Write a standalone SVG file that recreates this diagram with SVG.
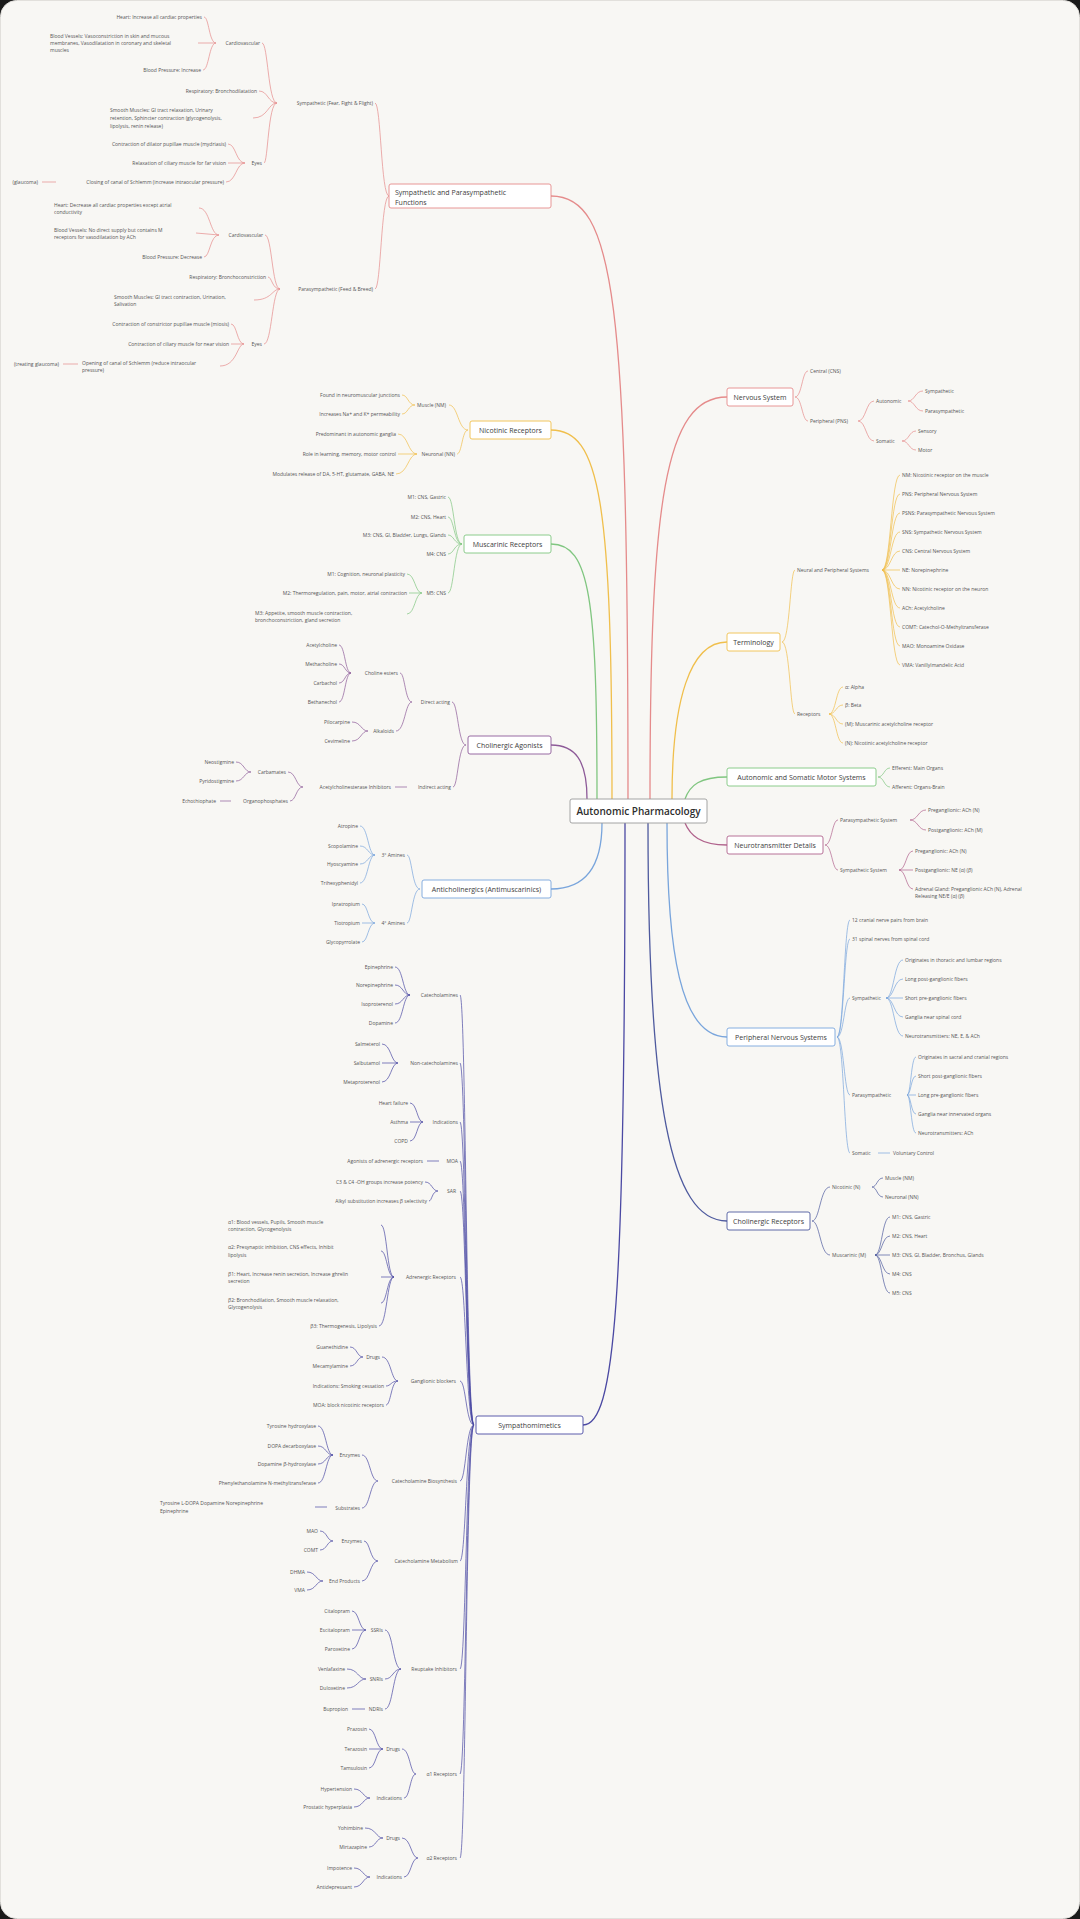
<svg xmlns="http://www.w3.org/2000/svg" width="1080" height="1919" viewBox="0 0 1080 1919">
<style>
text{font-family:'Open Sans','Liberation Sans',sans-serif;dominant-baseline:central}
.s{font-size:5px;fill:#555}
.e{text-anchor:end}
.m{text-anchor:middle}
.b{font-size:7px;fill:#3d3d3d}
.c{font-size:10px;fill:#2e2e2e;font-weight:600}
rect.n{fill:#fff;stroke-width:0.9}
path{fill:none;stroke-width:0.7}
.k{stroke-width:1.3}
.red{stroke:#e58b8b}.yel{stroke:#f0bf4c}.grn{stroke:#80c680}.pur{stroke:#8d5a98}
.mar{stroke:#b0628c}.blu{stroke:#79a5dc}.nav{stroke:#4e5a9e}.ind{stroke:#4b49a3}
</style>
<rect x="0" y="0" width="1080" height="1919" fill="#1a1a1a"/>
<rect x="0.5" y="0.5" width="1079" height="1918" rx="16" fill="#f8f7f4" stroke="#e2e0dc"/>

<g id="connectors">
<!-- main branches -->
<path class="red k" d="M551 196 C615 196 628 300 628 799"/>
<path class="yel k" d="M551 430 C600 430 612 500 612 799"/>
<path class="grn k" d="M551 544 C590 544 597 600 597 799"/>
<path class="pur k" d="M551 745 C575 745 587 760 587 799"/>
<path class="blu k" d="M551 889 C590 889 602 860 602 823"/>
<path class="ind k" d="M583 1425 C615 1425 625 1300 625 823"/>
<path class="red k" d="M727 397 C665 397 650 500 650 799"/>
<path class="yel k" d="M727 642 C690 642 672 700 672 799"/>
<path class="grn k" d="M727 777 C700 777 690 785 685 799"/>
<path class="mar k" d="M727 845 C700 845 690 835 685 823"/>
<path class="blu k" d="M727 1037 C680 1037 667 950 667 823"/>
<path class="nav k" d="M727 1221 C670 1221 648 1100 648 823"/>

<!-- sympathetic/parasympathetic functions -->
<path class="red" d="M389 196 C381 196 381 103 375 103 M389 196 C381 196 381 289 375 289"/>
<path class="red" d="M277 103 C268 103 268 43 262 43 M277 103 C268 103 268 91 259 91 M277 103 C268 103 268 118 253 118 M277 103 C268 103 268 163 264 163"/>
<path class="red" d="M216 43 C209 43 209 17 204 17 M216 43 L198 43 M216 43 C209 43 209 70 203 70"/>
<path class="red" d="M245 163 C236 163 236 144 228 144 M245 163 L228 163 M245 163 C236 163 236 182 226 182 M42 182 L56 182"/>
<path class="red" d="M280 289 C272 289 272 235 265 235 M280 289 C272 289 272 277 268 277 M280 289 C272 289 272 300 254 300 M280 289 C272 289 272 344 264 344"/>
<path class="red" d="M219 235 C210 235 210 208 199 208 M219 235 L196 233 M219 235 C210 235 210 257 204 257"/>
<path class="red" d="M244 344 C237 344 237 324 231 324 M244 344 L231 344 M244 344 C237 344 237 366 220 366 M63 364 L78 364"/>

<!-- nicotinic -->
<path class="yel" d="M468 430 C458 430 458 405 449 405 M468 430 C462 430 462 454 457 454"/>
<path class="yel" d="M415 405 C408 405 408 395 402 395 M415 405 C408 405 408 414 402 414"/>
<path class="yel" d="M417 454 C408 454 408 434 398 434 M417 454 L398 454 M417 454 C408 454 408 474 396 474"/>

<!-- muscarinic -->
<path class="grn" d="M462 544 C454 544 454 497 448 497 M462 544 C454 544 454 517 448 517 M462 544 C454 544 454 535 448 535 M462 544 C454 544 454 554 448 554 M462 544 C454 544 454 593 448 593"/>
<path class="grn" d="M422 593 C415 593 415 574 407 574 M422 593 L409 593 M422 593 C415 593 415 614 407 614"/>

<!-- cholinergic agonists -->
<path class="pur" d="M466 745 C458 745 458 702 452 702 M466 745 C458 745 458 787 453 787"/>
<path class="pur" d="M412 702 C405 702 405 673 400 673 M412 702 C405 702 405 731 396 731"/>
<path class="pur" d="M351 673 C345 673 345 645 339 645 M351 673 C345 673 345 664 339 664 M351 673 C345 673 345 683 339 683 M351 673 C345 673 345 702 339 702"/>
<path class="pur" d="M368 731 C361 731 361 722 352 722 M368 731 C361 731 361 741 352 741"/>
<path class="pur" d="M395 787 L407 787 M303 787 C296 787 296 772 288 772 M303 787 C296 787 296 801 290 801"/>
<path class="pur" d="M251 772 C244 772 244 762 236 762 M251 772 C244 772 244 781 236 781 M220 801 L231 801"/>

<!-- anticholinergics -->
<path class="blu" d="M420 889 C412 889 412 855 407 855 M420 889 C412 889 412 923 407 923"/>
<path class="blu" d="M375 855 C368 855 368 826 360 826 M375 855 C368 855 368 846 360 846 M375 855 C368 855 368 864 360 864 M375 855 C368 855 368 883 360 883"/>
<path class="blu" d="M375 923 C368 923 368 904 362 904 M375 923 L362 923 M375 923 C368 923 368 942 362 942"/>

<!-- sympathomimetics -->
<path class="ind" d="M474 1425 C466 1425 466 995 460 995 M474 1425 C466 1425 466 1063 460 1063 M474 1425 C466 1425 466 1122 460 1122 M474 1425 C466 1425 466 1161 460 1161 M474 1425 C466 1425 466 1191 460 1191 M474 1425 C466 1425 466 1277 460 1277 M474 1425 C466 1425 466 1381 460 1381 M474 1425 C466 1425 466 1481 460 1481 M474 1425 C466 1425 466 1561 460 1561 M474 1425 C466 1425 466 1669 460 1669 M474 1425 C466 1425 466 1774 460 1774 M474 1425 C466 1425 466 1858 460 1858"/>
<path class="ind" d="M410 995 C403 995 403 967 395 967 M410 995 C403 995 403 985 395 985 M410 995 C403 995 403 1004 395 1004 M410 995 C403 995 403 1023 395 1023"/>
<path class="ind" d="M398 1063 C391 1063 391 1044 382 1044 M398 1063 L382 1063 M398 1063 C391 1063 391 1082 382 1082"/>
<path class="ind" d="M423 1122 C417 1122 417 1103 410 1103 M423 1122 L410 1122 M423 1122 C417 1122 417 1141 410 1141 M427 1161 L439 1161"/>
<path class="ind" d="M438 1191 C432 1191 432 1182 425 1182 M438 1191 C432 1191 432 1201 429 1201"/>
<path class="ind" d="M394 1277 C387 1277 387 1225 381 1225 M394 1277 C387 1277 387 1251 381 1251 M394 1277 L381 1277 M394 1277 C387 1277 387 1303 381 1303 M394 1277 C387 1277 387 1326 379 1326"/>
<path class="ind" d="M398 1381 C391 1381 391 1357 382 1357 M398 1381 C391 1381 391 1386 386 1386 M398 1381 C391 1381 391 1405 386 1405"/>
<path class="ind" d="M363 1357 C357 1357 357 1347 350 1347 M363 1357 C357 1357 357 1366 350 1366"/>
<path class="ind" d="M378 1481 C370 1481 370 1455 362 1455 M378 1481 C370 1481 370 1508 362 1508"/>
<path class="ind" d="M333 1455 C326 1455 326 1426 318 1426 M333 1455 C326 1455 326 1446 318 1446 M333 1455 C326 1455 326 1464 318 1464 M333 1455 C326 1455 326 1483 318 1483 M315 1507 L327 1507"/>
<path class="ind" d="M378 1561 C370 1561 370 1541 364 1541 M378 1561 C370 1561 370 1581 362 1581"/>
<path class="ind" d="M333 1541 C327 1541 327 1531 320 1531 M333 1541 C327 1541 327 1550 320 1550"/>
<path class="ind" d="M323 1581 C316 1581 316 1572 307 1572 M323 1581 C316 1581 316 1590 307 1590"/>
<path class="ind" d="M401 1669 C393 1669 393 1630 385 1630 M401 1669 C393 1669 393 1679 385 1679 M401 1669 C393 1669 393 1709 385 1709"/>
<path class="ind" d="M366 1630 C359 1630 359 1611 352 1611 M366 1630 L352 1630 M366 1630 C359 1630 359 1649 352 1649"/>
<path class="ind" d="M366 1679 C358 1679 358 1669 347 1669 M366 1679 C358 1679 358 1688 347 1688 M352 1709 L365 1709"/>
<path class="ind" d="M416 1774 C410 1774 410 1749 402 1749 M416 1774 C410 1774 410 1798 404 1798"/>
<path class="ind" d="M383 1749 C376 1749 376 1729 369 1729 M383 1749 L369 1749 M383 1749 C376 1749 376 1768 369 1768"/>
<path class="ind" d="M370 1798 C363 1798 363 1789 354 1789 M370 1798 C363 1798 363 1807 354 1807"/>
<path class="ind" d="M418 1858 C411 1858 411 1838 402 1838 M418 1858 C411 1858 411 1877 404 1877"/>
<path class="ind" d="M383 1838 C376 1838 376 1828 365 1828 M383 1838 C376 1838 376 1847 369 1847"/>
<path class="ind" d="M370 1877 C363 1877 363 1868 354 1868 M370 1877 C363 1877 363 1887 354 1887"/>

<!-- nervous system -->
<path class="red" d="M795 397 C802 397 802 371 808 371 M795 397 C802 397 802 421 808 421"/>
<path class="red" d="M858 421 C866 421 866 401 874 401 M858 421 C866 421 866 441 874 441"/>
<path class="red" d="M908 401 C915 401 915 391 923 391 M908 401 C915 401 915 411 923 411"/>
<path class="red" d="M902 441 C909 441 909 431 916 431 M902 441 C909 441 909 450 916 450"/>

<!-- terminology -->
<path class="yel" d="M782 642 C790 642 790 570 795 570 M782 642 C790 642 790 714 795 714"/>
<path class="yel" d="M882 570 C891 570 891 475 900 475 M882 570 C891 570 891 494 900 494 M882 570 C891 570 891 513 900 513 M882 570 C891 570 891 532 900 532 M882 570 C891 570 891 551 900 551 M882 570 L900 570 M882 570 C891 570 891 589 900 589 M882 570 C891 570 891 608 900 608 M882 570 C891 570 891 627 900 627 M882 570 C891 570 891 646 900 646 M882 570 C891 570 891 665 900 665"/>
<path class="yel" d="M829 714 C836 714 836 687 843 687 M829 714 C836 714 836 705 843 705 M829 714 C836 714 836 724 843 724 M829 714 C836 714 836 743 843 743"/>

<!-- autonomic & somatic -->
<path class="grn" d="M878 777 C884 777 884 768 890 768 M878 777 C884 777 884 787 890 787"/>

<!-- neurotransmitter details -->
<path class="mar" d="M825 845 C832 845 832 820 838 820 M825 845 C832 845 832 870 838 870"/>
<path class="mar" d="M910 820 C918 820 918 810 926 810 M910 820 C918 820 918 830 926 830"/>
<path class="mar" d="M899 870 C906 870 906 851 913 851 M899 870 L913 870 M899 870 C906 870 906 889 913 889"/>

<!-- peripheral nervous systems -->
<path class="blu" d="M837 1037 C844 1037 844 920 850 920 M837 1037 C844 1037 844 939 850 939 M837 1037 C844 1037 844 998 850 998 M837 1037 C844 1037 844 1095 850 1095 M837 1037 C844 1037 844 1153 850 1153"/>
<path class="blu" d="M886 998 C894 998 894 960 903 960 M886 998 C894 998 894 979 903 979 M886 998 L903 998 M886 998 C894 998 894 1017 903 1017 M886 998 C894 998 894 1036 903 1036"/>
<path class="blu" d="M907 1095 C911 1095 911 1057 916 1057 M907 1095 C911 1095 911 1076 916 1076 M907 1095 L916 1095 M907 1095 C911 1095 911 1114 916 1114 M907 1095 C911 1095 911 1133 916 1133 M878 1153 L890 1153"/>

<!-- cholinergic receptors -->
<path class="nav" d="M812 1221 C820 1221 820 1187 830 1187 M812 1221 C820 1221 820 1255 830 1255"/>
<path class="nav" d="M872 1187 C877 1187 877 1178 883 1178 M872 1187 C877 1187 877 1197 883 1197"/>
<path class="nav" d="M875 1255 C882 1255 882 1217 890 1217 M875 1255 C882 1255 882 1236 890 1236 M875 1255 L890 1255 M875 1255 C882 1255 882 1274 890 1274 M875 1255 C882 1255 882 1293 890 1293"/>
</g>

<g id="center"><rect class="n" x="570" y="799" width="137" height="24" rx="2" stroke="#9a9a9a"/><text class="c m" x="638.5" y="811">Autonomic Pharmacology</text></g>

<g id="spf"><rect class="n" x="389" y="184" width="162" height="24" rx="2" stroke="#e58b8b"/><text class="b" x="395" y="192">Sympathetic and Parasympathetic</text><text class="b" x="395" y="202">Functions</text></g>
<g id="sym"><text class="s e" x="373" y="103">Sympathetic (Fear, Fight &amp; Flight)</text></g>
<g id="sym-cv"><text class="s e" x="260" y="43">Cardiovascular</text></g>
<g id="sym-cv1"><text class="s e" x="202" y="17">Heart: Increase all cardiac properties</text></g>
<g id="sym-cv2"><text class="s" x="50" y="36">Blood Vessels: Vasoconstriction in skin and mucous</text><text class="s" x="50" y="43">membranes, Vasodilatation in coronary and skeletal</text><text class="s" x="50" y="50">muscles</text></g>
<g id="sym-cv3"><text class="s e" x="201" y="70">Blood Pressure: Increase</text></g>
<g id="sym-resp"><text class="s e" x="257" y="91">Respiratory: Bronchodilatation</text></g>
<g id="sym-sm"><text class="s" x="110" y="110">Smooth Muscles: GI tract relaxation, Urinary</text><text class="s" x="110" y="118">retention, Sphincter contraction (glycogenolysis,</text><text class="s" x="110" y="126">lipolysis, renin release)</text></g>
<g id="sym-eye"><text class="s e" x="262" y="163">Eyes</text></g>
<g id="sym-eye1"><text class="s e" x="226" y="144">Contraction of dilator pupillae muscle (mydriasis)</text></g>
<g id="sym-eye2"><text class="s e" x="226" y="163">Relaxation of ciliary muscle for far vision</text></g>
<g id="sym-eye3"><text class="s e" x="224" y="182">Closing of canal of Schlemm (increase intraocular pressure)</text></g>
<g id="sym-eye3a"><text class="s e" x="38" y="182">(glaucoma)</text></g>
<g id="par"><text class="s e" x="373" y="289">Parasympathetic (Feed &amp; Breed)</text></g>
<g id="par-cv"><text class="s e" x="263" y="235">Cardiovascular</text></g>
<g id="par-cv1"><text class="s" x="54" y="205">Heart: Decrease all cardiac properties except atrial</text><text class="s" x="54" y="212">conductivity</text></g>
<g id="par-cv2"><text class="s" x="54" y="230">Blood Vessels: No direct supply but contains M</text><text class="s" x="54" y="237">receptors for vasodilatation by ACh</text></g>
<g id="par-cv3"><text class="s e" x="202" y="257">Blood Pressure: Decrease</text></g>
<g id="par-resp"><text class="s e" x="266" y="277">Respiratory: Bronchoconstriction</text></g>
<g id="par-sm"><text class="s" x="114" y="297">Smooth Muscles: GI tract contraction, Urination,</text><text class="s" x="114" y="304">Salivation</text></g>
<g id="par-eye"><text class="s e" x="262" y="344">Eyes</text></g>
<g id="par-eye1"><text class="s e" x="229" y="324">Contraction of constrictor pupillae muscle (miosis)</text></g>
<g id="par-eye2"><text class="s e" x="229" y="344">Contraction of ciliary muscle for near vision</text></g>
<g id="par-eye3"><text class="s" x="82" y="363">Opening of canal of Schlemm (reduce intraocular</text><text class="s" x="82" y="370">pressure)</text></g>
<g id="par-eye3a"><text class="s e" x="59" y="364">(treating glaucoma)</text></g>

<g id="nic"><rect class="n" x="470" y="421" width="81" height="18" rx="2" stroke="#f0bf4c"/><text class="b m" x="510.5" y="430">Nicotinic Receptors</text></g>
<g id="nic-m"><text class="s e" x="446" y="405">Muscle (NM)</text></g>
<g id="nic-m1"><text class="s e" x="400" y="395">Found in neuromuscular junctions</text></g>
<g id="nic-m2"><text class="s e" x="400" y="414">Increases Na+ and K+ permeability</text></g>
<g id="nic-n"><text class="s e" x="455" y="454">Neuronal (NN)</text></g>
<g id="nic-n1"><text class="s e" x="396" y="434">Predominant in autonomic ganglia</text></g>
<g id="nic-n2"><text class="s e" x="396" y="454">Role in learning, memory, motor control</text></g>
<g id="nic-n3"><text class="s e" x="394" y="474">Modulates release of DA, 5-HT, glutamate, GABA, NE</text></g>

<g id="mus"><rect class="n" x="464" y="535" width="87" height="18" rx="2" stroke="#80c680"/><text class="b m" x="507.5" y="544">Muscarinic Receptors</text></g>
<g id="mus1"><text class="s e" x="446" y="497">M1: CNS, Gastric</text></g>
<g id="mus2"><text class="s e" x="446" y="517">M2: CNS, Heart</text></g>
<g id="mus3"><text class="s e" x="446" y="535">M3: CNS, GI, Bladder, Lungs, Glands</text></g>
<g id="mus4"><text class="s e" x="446" y="554">M4: CNS</text></g>
<g id="mus5"><text class="s e" x="446" y="593">M5: CNS</text></g>
<g id="mus5a"><text class="s e" x="405" y="574">M1: Cognition, neuronal plasticity</text></g>
<g id="mus5b"><text class="s e" x="407" y="593">M2: Thermoregulation, pain, motor, atrial contraction</text></g>
<g id="mus5c"><text class="s" x="255" y="613">M3: Appetite, smooth muscle contraction,</text><text class="s" x="255" y="620">bronchoconstriction, gland secretion</text></g>

<g id="cha"><rect class="n" x="468" y="736" width="83" height="18" rx="2" stroke="#8d5a98"/><text class="b m" x="509.5" y="745">Cholinergic Agonists</text></g>
<g id="cha-d"><text class="s e" x="450" y="702">Direct acting</text></g>
<g id="cha-ce"><text class="s e" x="398" y="673">Choline esters</text></g>
<g id="cha-ce1"><text class="s e" x="337" y="645">Acetylcholine</text></g>
<g id="cha-ce2"><text class="s e" x="337" y="664">Methacholine</text></g>
<g id="cha-ce3"><text class="s e" x="337" y="683">Carbachol</text></g>
<g id="cha-ce4"><text class="s e" x="337" y="702">Bethanechol</text></g>
<g id="cha-al"><text class="s e" x="394" y="731">Alkaloids</text></g>
<g id="cha-al1"><text class="s e" x="350" y="722">Pilocarpine</text></g>
<g id="cha-al2"><text class="s e" x="350" y="741">Cevimeline</text></g>
<g id="cha-i"><text class="s e" x="451" y="787">Indirect acting</text></g>
<g id="cha-ache"><text class="s e" x="391" y="787">Acetylcholinesterase Inhibitors</text></g>
<g id="cha-ca"><text class="s e" x="286" y="772">Carbamates</text></g>
<g id="cha-ca1"><text class="s e" x="234" y="762">Neostigmine</text></g>
<g id="cha-ca2"><text class="s e" x="234" y="781">Pyridostigmine</text></g>
<g id="cha-op"><text class="s e" x="288" y="801">Organophosphates</text></g>
<g id="cha-op1"><text class="s e" x="216" y="801">Echothiophate</text></g>

<g id="ant"><rect class="n" x="422" y="880" width="129" height="18" rx="2" stroke="#79a5dc"/><text class="b m" x="486.5" y="889">Anticholinergics (Antimuscarinics)</text></g>
<g id="ant3"><text class="s e" x="405" y="855">3° Amines</text></g>
<g id="ant3a"><text class="s e" x="358" y="826">Atropine</text></g>
<g id="ant3b"><text class="s e" x="358" y="846">Scopolamine</text></g>
<g id="ant3c"><text class="s e" x="358" y="864">Hyoscyamine</text></g>
<g id="ant3d"><text class="s e" x="358" y="883">Trihexyphenidyl</text></g>
<g id="ant4"><text class="s e" x="405" y="923">4° Amines</text></g>
<g id="ant4a"><text class="s e" x="360" y="904">Ipratropium</text></g>
<g id="ant4b"><text class="s e" x="360" y="923">Tiotropium</text></g>
<g id="ant4c"><text class="s e" x="360" y="942">Glycopyrrolate</text></g>

<g id="smm"><rect class="n" x="476" y="1416" width="107" height="18" rx="2" stroke="#4b49a3"/><text class="b m" x="529.5" y="1425">Sympathomimetics</text></g>
<g id="smm-cat"><text class="s e" x="458" y="995">Catecholamines</text></g>
<g id="smm-cat1"><text class="s e" x="393" y="967">Epinephrine</text></g>
<g id="smm-cat2"><text class="s e" x="393" y="985">Norepinephrine</text></g>
<g id="smm-cat3"><text class="s e" x="393" y="1004">Isoproterenol</text></g>
<g id="smm-cat4"><text class="s e" x="393" y="1023">Dopamine</text></g>
<g id="smm-non"><text class="s e" x="458" y="1063">Non-catecholamines</text></g>
<g id="smm-non1"><text class="s e" x="380" y="1044">Salmeterol</text></g>
<g id="smm-non2"><text class="s e" x="380" y="1063">Salbutamol</text></g>
<g id="smm-non3"><text class="s e" x="380" y="1082">Metaproterenol</text></g>
<g id="smm-ind"><text class="s e" x="458" y="1122">Indications</text></g>
<g id="smm-ind1"><text class="s e" x="408" y="1103">Heart failure</text></g>
<g id="smm-ind2"><text class="s e" x="408" y="1122">Asthma</text></g>
<g id="smm-ind3"><text class="s e" x="408" y="1141">COPD</text></g>
<g id="smm-moa"><text class="s e" x="458" y="1161">MOA</text></g>
<g id="smm-moa1"><text class="s e" x="423" y="1161">Agonists of adrenergic receptors</text></g>
<g id="smm-sar"><text class="s e" x="456" y="1191">SAR</text></g>
<g id="smm-sar1"><text class="s e" x="423" y="1182">C3 &amp; C4 -OH groups increase potency</text></g>
<g id="smm-sar2"><text class="s e" x="427" y="1201">Alkyl substitution increases β selectivity</text></g>
<g id="smm-ar"><text class="s e" x="456" y="1277">Adrenergic Receptors</text></g>
<g id="smm-ar1"><text class="s" x="228" y="1222">α1: Blood vessels, Pupils, Smooth muscle</text><text class="s" x="228" y="1229">contraction, Glycogenolysis</text></g>
<g id="smm-ar2"><text class="s" x="228" y="1247">α2: Presynaptic inhibition, CNS effects, Inhibit</text><text class="s" x="228" y="1255">lipolysis</text></g>
<g id="smm-ar3"><text class="s" x="228" y="1274">β1: Heart, Increase renin secretion, Increase ghrelin</text><text class="s" x="228" y="1281">secretion</text></g>
<g id="smm-ar4"><text class="s" x="228" y="1300">β2: Bronchodilation, Smooth muscle relaxation,</text><text class="s" x="228" y="1307">Glycogenolysis</text></g>
<g id="smm-ar5"><text class="s e" x="377" y="1326">β3: Thermogenesis, Lipolysis</text></g>
<g id="smm-gb"><text class="s e" x="456" y="1381">Ganglionic blockers</text></g>
<g id="smm-gbd"><text class="s e" x="380" y="1357">Drugs</text></g>
<g id="smm-gbd1"><text class="s e" x="348" y="1347">Guanethidine</text></g>
<g id="smm-gbd2"><text class="s e" x="348" y="1366">Mecamylamine</text></g>
<g id="smm-gb2"><text class="s e" x="384" y="1386">Indications: Smoking cessation</text></g>
<g id="smm-gb3"><text class="s e" x="384" y="1405">MOA: block nicotinic receptors</text></g>
<g id="smm-bio"><text class="s e" x="457" y="1481">Catecholamine Biosynthesis</text></g>
<g id="smm-bioe"><text class="s e" x="360" y="1455">Enzymes</text></g>
<g id="smm-bioe1"><text class="s e" x="316" y="1426">Tyrosine hydroxylase</text></g>
<g id="smm-bioe2"><text class="s e" x="316" y="1446">DOPA decarboxylase</text></g>
<g id="smm-bioe3"><text class="s e" x="316" y="1464">Dopamine β-hydroxylase</text></g>
<g id="smm-bioe4"><text class="s e" x="316" y="1483">Phenylethanolamine N-methyltransferase</text></g>
<g id="smm-bios"><text class="s e" x="360" y="1508">Substrates</text></g>
<g id="smm-bios1"><text class="s" x="160" y="1503">Tyrosine L-DOPA Dopamine Norepinephrine</text><text class="s" x="160" y="1511">Epinephrine</text></g>
<g id="smm-met"><text class="s e" x="458" y="1561">Catecholamine Metabolism</text></g>
<g id="smm-mete"><text class="s e" x="362" y="1541">Enzymes</text></g>
<g id="smm-mete1"><text class="s e" x="318" y="1531">MAO</text></g>
<g id="smm-mete2"><text class="s e" x="318" y="1550">COMT</text></g>
<g id="smm-metp"><text class="s e" x="360" y="1581">End Products</text></g>
<g id="smm-metp1"><text class="s e" x="305" y="1572">DHMA</text></g>
<g id="smm-metp2"><text class="s e" x="305" y="1590">VMA</text></g>
<g id="smm-ri"><text class="s e" x="457" y="1669">Reuptake Inhibitors</text></g>
<g id="smm-ssri"><text class="s e" x="383" y="1630">SSRIs</text></g>
<g id="smm-ssri1"><text class="s e" x="350" y="1611">Citalopram</text></g>
<g id="smm-ssri2"><text class="s e" x="350" y="1630">Escitalopram</text></g>
<g id="smm-ssri3"><text class="s e" x="350" y="1649">Paroxetine</text></g>
<g id="smm-snri"><text class="s e" x="383" y="1679">SNRIs</text></g>
<g id="smm-snri1"><text class="s e" x="345" y="1669">Venlafaxine</text></g>
<g id="smm-snri2"><text class="s e" x="345" y="1688">Duloxetine</text></g>
<g id="smm-ndri"><text class="s e" x="383" y="1709">NDRIs</text></g>
<g id="smm-ndri1"><text class="s e" x="348" y="1709">Bupropion</text></g>
<g id="smm-a1"><text class="s e" x="457" y="1774">α1 Receptors</text></g>
<g id="smm-a1d"><text class="s e" x="400" y="1749">Drugs</text></g>
<g id="smm-a1d1"><text class="s e" x="367" y="1729">Prazosin</text></g>
<g id="smm-a1d2"><text class="s e" x="367" y="1749">Terazosin</text></g>
<g id="smm-a1d3"><text class="s e" x="367" y="1768">Tamsulosin</text></g>
<g id="smm-a1i"><text class="s e" x="402" y="1798">Indications</text></g>
<g id="smm-a1i1"><text class="s e" x="352" y="1789">Hypertension</text></g>
<g id="smm-a1i2"><text class="s e" x="352" y="1807">Prostatic hyperplasia</text></g>
<g id="smm-a2"><text class="s e" x="457" y="1858">α2 Receptors</text></g>
<g id="smm-a2d"><text class="s e" x="400" y="1838">Drugs</text></g>
<g id="smm-a2d1"><text class="s e" x="363" y="1828">Yohimbine</text></g>
<g id="smm-a2d2"><text class="s e" x="367" y="1847">Mirtazapine</text></g>
<g id="smm-a2i"><text class="s e" x="402" y="1877">Indications</text></g>
<g id="smm-a2i1"><text class="s e" x="352" y="1868">Impotence</text></g>
<g id="smm-a2i2"><text class="s e" x="352" y="1887">Antidepressant</text></g>

<g id="ns"><rect class="n" x="727" y="388" width="66" height="18" rx="2" stroke="#e58b8b"/><text class="b m" x="760" y="397">Nervous System</text></g>
<g id="ns-c"><text class="s" x="810" y="371">Central (CNS)</text></g>
<g id="ns-p"><text class="s" x="810" y="421">Peripheral (PNS)</text></g>
<g id="ns-pa"><text class="s" x="876" y="401">Autonomic</text></g>
<g id="ns-pa1"><text class="s" x="925" y="391">Sympathetic</text></g>
<g id="ns-pa2"><text class="s" x="925" y="411">Parasympathetic</text></g>
<g id="ns-ps"><text class="s" x="876" y="441">Somatic</text></g>
<g id="ns-ps1"><text class="s" x="918" y="431">Sensory</text></g>
<g id="ns-ps2"><text class="s" x="918" y="450">Motor</text></g>

<g id="term"><rect class="n" x="727" y="633" width="53" height="18" rx="2" stroke="#f0bf4c"/><text class="b m" x="753.5" y="642">Terminology</text></g>
<g id="term-n"><text class="s" x="797" y="570">Neural and Peripheral Systems</text></g>
<g id="term-n1"><text class="s" x="902" y="475">NM: Nicotinic receptor on the muscle</text></g>
<g id="term-n2"><text class="s" x="902" y="494">PNS: Peripheral Nervous System</text></g>
<g id="term-n3"><text class="s" x="902" y="513">PSNS: Parasympathetic Nervous System</text></g>
<g id="term-n4"><text class="s" x="902" y="532">SNS: Sympathetic Nervous System</text></g>
<g id="term-n5"><text class="s" x="902" y="551">CNS: Central Nervous System</text></g>
<g id="term-n6"><text class="s" x="902" y="570">NE: Norepinephrine</text></g>
<g id="term-n7"><text class="s" x="902" y="589">NN: Nicotinic receptor on the neuron</text></g>
<g id="term-n8"><text class="s" x="902" y="608">ACh: Acetylcholine</text></g>
<g id="term-n9"><text class="s" x="902" y="627">COMT: Catechol-O-Methyltransferase</text></g>
<g id="term-n10"><text class="s" x="902" y="646">MAO: Monoamine Oxidase</text></g>
<g id="term-n11"><text class="s" x="902" y="665">VMA: Vanillylmandelic Acid</text></g>
<g id="term-r"><text class="s" x="797" y="714">Receptors</text></g>
<g id="term-r1"><text class="s" x="845" y="687">α: Alpha</text></g>
<g id="term-r2"><text class="s" x="845" y="705">β: Beta</text></g>
<g id="term-r3"><text class="s" x="845" y="724">(M): Muscarinic acetylcholine receptor</text></g>
<g id="term-r4"><text class="s" x="845" y="743">(N): Nicotinic acetylcholine receptor</text></g>

<g id="asm"><rect class="n" x="727" y="768" width="149" height="18" rx="2" stroke="#80c680"/><text class="b m" x="801.5" y="777">Autonomic and Somatic Motor Systems</text></g>
<g id="asm1"><text class="s" x="892" y="768">Efferent: Main Organs</text></g>
<g id="asm2"><text class="s" x="892" y="787">Afferent: Organs-Brain</text></g>

<g id="ntd"><rect class="n" x="727" y="836" width="96" height="18" rx="2" stroke="#b0628c"/><text class="b m" x="775" y="845">Neurotransmitter Details</text></g>
<g id="ntd-p"><text class="s" x="840" y="820">Parasympathetic System</text></g>
<g id="ntd-p1"><text class="s" x="928" y="810">Preganglionic: ACh (N)</text></g>
<g id="ntd-p2"><text class="s" x="928" y="830">Postganglionic: ACh (M)</text></g>
<g id="ntd-s"><text class="s" x="840" y="870">Sympathetic System</text></g>
<g id="ntd-s1"><text class="s" x="915" y="851">Preganglionic: ACh (N)</text></g>
<g id="ntd-s2"><text class="s" x="915" y="870">Postganglionic: NE (α) (β)</text></g>
<g id="ntd-s3"><text class="s" x="915" y="889">Adrenal Gland: Preganglionic ACh (N), Adrenal</text><text class="s" x="915" y="896">Releasing NE/E (α) (β)</text></g>

<g id="pns"><rect class="n" x="727" y="1028" width="108" height="18" rx="2" stroke="#79a5dc"/><text class="b m" x="781" y="1037">Peripheral Nervous Systems</text></g>
<g id="pns1"><text class="s" x="852" y="920">12 cranial nerve pairs from brain</text></g>
<g id="pns2"><text class="s" x="852" y="939">31 spinal nerves from spinal cord</text></g>
<g id="pns-s"><text class="s" x="852" y="998">Sympathetic</text></g>
<g id="pns-s1"><text class="s" x="905" y="960">Originates in thoracic and lumbar regions</text></g>
<g id="pns-s2"><text class="s" x="905" y="979">Long post-ganglionic fibers</text></g>
<g id="pns-s3"><text class="s" x="905" y="998">Short pre-ganglionic fibers</text></g>
<g id="pns-s4"><text class="s" x="905" y="1017">Ganglia near spinal cord</text></g>
<g id="pns-s5"><text class="s" x="905" y="1036">Neurotransmitters: NE, E, &amp; ACh</text></g>
<g id="pns-p"><text class="s" x="852" y="1095">Parasympathetic</text></g>
<g id="pns-p1"><text class="s" x="918" y="1057">Originates in sacral and cranial regions</text></g>
<g id="pns-p2"><text class="s" x="918" y="1076">Short post-ganglionic fibers</text></g>
<g id="pns-p3"><text class="s" x="918" y="1095">Long pre-ganglionic fibers</text></g>
<g id="pns-p4"><text class="s" x="918" y="1114">Ganglia near innervated organs</text></g>
<g id="pns-p5"><text class="s" x="918" y="1133">Neurotransmitters: ACh</text></g>
<g id="pns-so"><text class="s" x="852" y="1153">Somatic</text></g>
<g id="pns-so1"><text class="s" x="893" y="1153">Voluntary Control</text></g>

<g id="chr"><rect class="n" x="727" y="1212" width="83" height="18" rx="2" stroke="#4e5a9e"/><text class="b m" x="768.5" y="1221">Cholinergic Receptors</text></g>
<g id="chr-n"><text class="s" x="832" y="1187">Nicotinic (N)</text></g>
<g id="chr-n1"><text class="s" x="885" y="1178">Muscle (NM)</text></g>
<g id="chr-n2"><text class="s" x="885" y="1197">Neuronal (NN)</text></g>
<g id="chr-m"><text class="s" x="832" y="1255">Muscarinic (M)</text></g>
<g id="chr-m1"><text class="s" x="892" y="1217">M1: CNS, Gastric</text></g>
<g id="chr-m2"><text class="s" x="892" y="1236">M2: CNS, Heart</text></g>
<g id="chr-m3"><text class="s" x="892" y="1255">M3: CNS, GI, Bladder, Bronchus, Glands</text></g>
<g id="chr-m4"><text class="s" x="892" y="1274">M4: CNS</text></g>
<g id="chr-m5"><text class="s" x="892" y="1293">M5: CNS</text></g>
</svg>
